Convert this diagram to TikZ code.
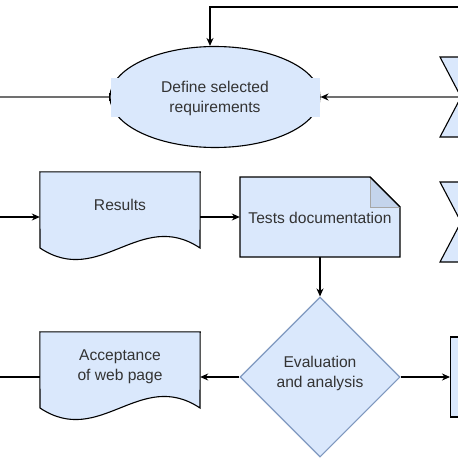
\documentclass[tikz,border=0pt]{standalone}
\usepackage{fontspec}
\setmainfont{Liberation Sans}
\usetikzlibrary{shapes.geometric,arrows.meta}
\definecolor{fillc}{HTML}{DAE8FC}
\definecolor{foldc}{HTML}{C4D4EC}
\definecolor{diastroke}{HTML}{7F98BF}
\definecolor{textc}{HTML}{333333}
\definecolor{linegray}{HTML}{707070}
\begin{document}
\begin{tikzpicture}[x=1pt,y=-1pt,
  txt/.style={font=\fontsize{15.6}{20}\selectfont, text=textc, align=center, inner sep=0},
  shapeline/.style={draw=black, line width=1.1pt, fill=fillc, line join=miter},
  conn/.style={line width=1.1pt, draw=black},
  arr/.style={conn, -{Stealth[length=8pt,width=7pt]}},
  box/.style={draw=none, inner sep=0, minimum width=160pt, minimum height=90pt}]
\useasboundingbox (0,0) rectangle (458,458);
\clip (0,0) rectangle (458,458);

% ---------- shapes ----------
% ellipse
\node[ellipse, shapeline, minimum width=210pt, minimum height=101pt, inner sep=0] (ell) at (215,97) {};
\fill[fillc] (110.6,78) rectangle (319.6,117);
\node[txt] (ellT) at (215,98) {Define selected\\requirements};

% collate shapes (right edge)
\draw[shapeline] (440,57) -- (482,57) -- (440,137) -- (482,137) -- cycle;
\coordinate (col1) at (461,97);
\draw[shapeline] (440,182) -- (482,182) -- (440,262) -- (482,262) -- cycle;

% Results document
\node[box] (res) at (120,217) {};
\draw[shapeline] (res.north west) -- (res.north east) -- (200,248)
   .. controls (140,208) and (100,288) .. (40,248) -- cycle;
\node[txt] (resT) at (120,205) {Results};

% Tests documentation note
\node[box, minimum height=80pt] (note) at (320,217) {};
\draw[shapeline] (240,177) -- (370,177) -- (400,207) -- (400,257) -- (240,257) -- cycle;
\filldraw[fill=foldc, draw=black!35, line width=0.8pt] (370,177) -- (370,207) -- (400,207);
\draw[line width=1.1pt] (370,177) -- (400,207);
\node[txt] (noteT) at (320,218) {Tests documentation};

% Diamond
\node[diamond, draw=diastroke, line width=1.1pt, fill=fillc, minimum width=160pt, minimum height=160pt, inner sep=0] (dia) at (320,377) {};
\node[txt] (diaT) at (320,373) {Evaluation\\and analysis};

% Acceptance document
\node[box] (acc) at (120,377) {};
\draw[shapeline] (acc.north west) -- (acc.north east) -- (200,408)
   .. controls (140,368) and (100,448) .. (40,408) -- cycle;
\node[txt] (accT) at (120,366.5) {Acceptance\\of web page};

% Right rectangle
\node[draw=black, line width=1.1pt, fill=fillc, minimum width=60pt, minimum height=80pt, inner sep=0, anchor=west] (rect) at (450,377) {};

% ---------- connectors ----------
\coordinate (topR) at (470,7);
\coordinate (topL) at (210,7);
\draw[arr] (topR) -- (topL) -- (topL |- ell.north);

\coordinate (leftE) at (-5,97);
\draw[line width=1.1pt, draw=linegray] (leftE) -- (ell.west);
\draw[line width=1.1pt, draw=black] (ell.west) ++(0,-4) -- ++(0,8);
\draw[line width=1.1pt, draw=linegray, -{Stealth[length=8pt,width=7pt,color=black]}] (col1) -- (ell.east);

\coordinate (leftR) at (-5,217);
\draw[arr] (leftR) -- (res.west);
\draw[arr] (res.east) -- (note.west);
\draw[arr] (note.south) -- (dia.north);
\draw[arr] (dia.west) -- (acc.east);
\draw[arr] (dia.east) -- (rect.west);
\coordinate (leftA) at (-5,377);
\draw[conn] (acc.west) -- (leftA);
\end{tikzpicture}
\end{document}
